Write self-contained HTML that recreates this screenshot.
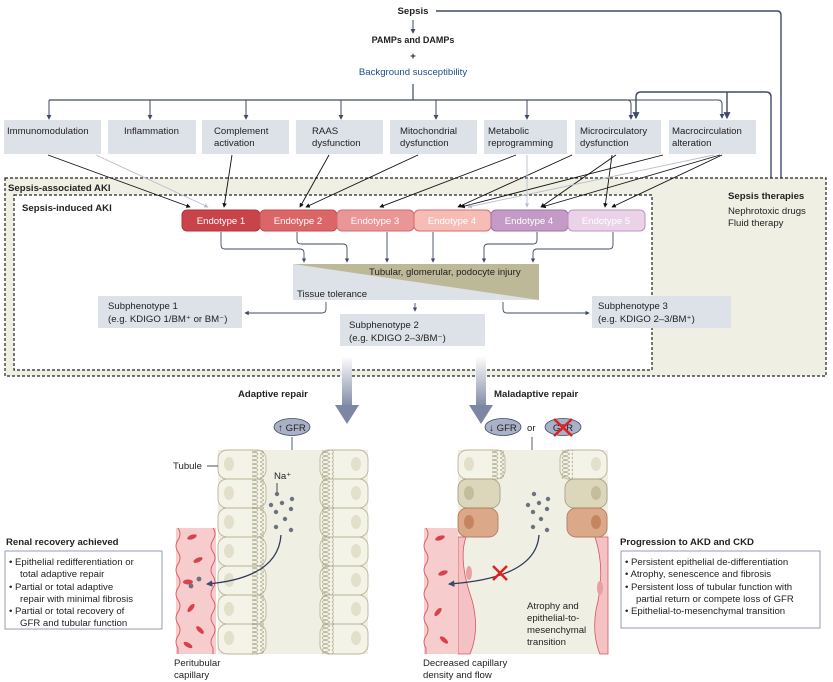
<!DOCTYPE html>
<html><head><meta charset="utf-8"><style>
html,body{margin:0;padding:0;background:#fff}
svg{display:block;font-family:"Liberation Sans",sans-serif}
text{font-size:9.6px;fill:#222}
.b{font-weight:bold}
.w{fill:#fff}
</style></head><body>
<svg width="833" height="682" viewBox="0 0 833 682" xmlns="http://www.w3.org/2000/svg">
<defs>
<marker id="a" viewBox="0 0 6 6" refX="5" refY="3" markerWidth="5" markerHeight="5" orient="auto"><path d="M0,0L6,3L0,6z" fill="#3e4a66"/></marker>
<marker id="k" viewBox="0 0 6 6" refX="5" refY="3" markerWidth="5" markerHeight="5" orient="auto"><path d="M0,0L6,3L0,6z" fill="#111"/></marker>
<marker id="g" viewBox="0 0 6 6" refX="5" refY="3" markerWidth="5" markerHeight="5" orient="auto"><path d="M0,0L6,3L0,6z" fill="#b8bfcc"/></marker>
<pattern id="rf" width="10" height="4" patternUnits="userSpaceOnUse"><path d="M0,2 C3,0 7,0 8,2 C7,4 3,4 0,2" fill="none" stroke="#aaa78a" stroke-width="0.7"/></pattern>
<pattern id="rf2" width="10" height="4" patternUnits="userSpaceOnUse"><path d="M10,2 C7,0 3,0 2,2 C3,4 7,4 10,2" fill="none" stroke="#aaa78a" stroke-width="0.7"/></pattern>
<linearGradient id="ar" x1="0" y1="0" x2="0" y2="1"><stop offset="0" stop-color="#fff"/><stop offset="1" stop-color="#7d87a3"/></linearGradient>
</defs>

<!-- top -->
<text x="413" y="14" class="b" text-anchor="middle">Sepsis</text>
<path d="M436,11H777Q781,11 781,15V184" fill="none" stroke="#3e4a66" stroke-width="1.4" marker-end="url(#a)"/>
<path d="M413,20V33" stroke="#3e4a66" stroke-width="1" marker-end="url(#a)"/>
<text x="413" y="43" class="b" text-anchor="middle" style="font-size:9px">PAMPs and DAMPs</text>
<text x="413" y="59" class="b" text-anchor="middle">+</text>
<text x="413" y="75" text-anchor="middle" fill="#1f4b8c" style="fill:#1f4b8c">Background susceptibility</text>
<path d="M413,84V100M49,100H627" fill="none" stroke="#3e4a66" stroke-width="1.2"/>
<path d="M627,100Q631,100 631,104V118" fill="none" stroke="#3e4a66" stroke-width="1"/>
<path d="M627,100H718Q722,100 722,104V118" fill="none" stroke="#3e4a66" stroke-width="1" marker-end="url(#a)"/>
<g stroke="#3e4a66" stroke-width="1" fill="none" marker-end="url(#a)">
<path d="M49,100V119"/><path d="M150,100V119"/><path d="M246,100V119"/><path d="M341,100V119"/><path d="M436,100V119"/><path d="M527,100V119"/><path d="M631,104V119"/>
</g>
<path d="M771,184V97Q771,92 766,92H641Q636,92 636,97V118" fill="none" stroke="#3e4a66" stroke-width="1.4" marker-end="url(#a)"/>
<path d="M727,92V118" fill="none" stroke="#3e4a66" stroke-width="1.4" marker-end="url(#a)"/>

<g fill="#dde1e8">
<rect x="4" y="120" width="97" height="34"/><rect x="108" y="120" width="88" height="34"/><rect x="202" y="120" width="87" height="34"/><rect x="296" y="120" width="87" height="34"/><rect x="390" y="120" width="87" height="34"/><rect x="484" y="120" width="83" height="34"/><rect x="575" y="120" width="86" height="34"/><rect x="669" y="120" width="87" height="34"/>
</g>
<text x="7" y="134">Immunomodulation</text>
<text x="124" y="134">Inflammation</text>
<text x="214" y="134">Complement</text><text x="214" y="146">activation</text>
<text x="312" y="134">RAAS</text><text x="312" y="146">dysfunction</text>
<text x="400" y="134">Mitochondrial</text><text x="400" y="146">dysfunction</text>
<text x="488" y="134">Metabolic</text><text x="488" y="146">reprogramming</text>
<text x="580" y="134">Microcirculatory</text><text x="580" y="146">dysfunction</text>
<text x="672" y="134">Macrocirculation</text><text x="672" y="146">alteration</text>

<!-- AKI boxes -->
<rect x="5" y="178" width="821" height="198" fill="#efefe4" stroke="#222" stroke-width="1.2" stroke-dasharray="3,2"/>
<rect x="14" y="195" width="638" height="175" fill="#fff" stroke="#222" stroke-width="1.2" stroke-dasharray="3,2"/>
<text x="8" y="191" class="b">Sepsis-associated AKI</text>
<text x="22" y="211" class="b">Sepsis-induced AKI</text>
<text x="728" y="199" class="b">Sepsis therapies</text>
<text x="728" y="214">Nephrotoxic drugs</text>
<text x="728" y="226">Fluid therapy</text>

<!-- connectors box->endotype -->
<g stroke="#111" stroke-width="0.9" marker-end="url(#k)">
<path d="M48,155L190,207"/><path d="M232,155L224,207"/><path d="M329,155L300,207"/><path d="M418,155L306,207"/>
<path d="M516,155L380,207"/><path d="M572,155L458,207"/><path d="M663,155L461,207"/><path d="M616,155L541,207"/>
<path d="M612,155L605,207"/><path d="M720,155L542,207"/><path d="M722,155L612,207"/>
</g>
<g stroke="#b8bfcc" stroke-width="0.9" marker-end="url(#g)">
<path d="M96,155L208,207"/><path d="M527,155L527,207"/><path d="M714,155L468,207"/>
</g>

<!-- endotypes -->
<rect x="182" y="210" width="78" height="21" rx="5" fill="#c9444a" stroke="#b53038"/>
<rect x="260" y="210" width="77" height="21" rx="5" fill="#db6668" stroke="#c94a4f"/>
<rect x="337" y="210" width="77" height="21" rx="5" fill="#ea9596" stroke="#d36a6e"/>
<rect x="414" y="210" width="77" height="21" rx="5" fill="#f6bdb7" stroke="#d86a6e"/>
<rect x="491" y="210" width="77" height="21" rx="5" fill="#c49ac6" stroke="#a070a6"/>
<rect x="568" y="210" width="77" height="21" rx="5" fill="#ead2e8" stroke="#c090c0"/>
<g text-anchor="middle" class="w" style="fill:#fff">
<text x="221" y="224" style="fill:#fff">Endotype 1</text><text x="298" y="224" style="fill:#fff">Endotype 2</text><text x="375" y="224" style="fill:#fff">Endotype 3</text><text x="452" y="224" style="fill:#fff">Endotype 4</text><text x="529" y="224" style="fill:#fff">Endotype 4</text><text x="606" y="224" style="fill:#fff">Endotype 5</text>
</g>
<g stroke="#3e4a66" stroke-width="0.9" fill="none" marker-end="url(#a)">
<path d="M221,232V245Q221,249 225,249H300Q304,249 304,253V262"/>
<path d="M297,232V240Q297,244 301,244H343Q347,244 347,248V262"/>
<path d="M387,232V262"/><path d="M433,232V262"/>
<path d="M537,232V240Q537,244 533,244H488Q484,244 484,248V262"/>
<path d="M613,232V245Q613,249 609,249H537Q533,249 533,253V262"/>
</g>

<rect x="293" y="264" width="246" height="36" fill="#dde1e8"/>
<path d="M293,264H539V300z" fill="#bdb898"/>
<text x="369" y="275">Tubular, glomerular, podocyte injury</text>
<text x="297" y="297">Tissue tolerance</text>

<rect x="98" y="296" width="144" height="32" fill="#dde1e8"/>
<text x="108" y="309">Subphenotype 1</text><text x="108" y="322">(e.g. KDIGO 1/BM⁺ or BM⁻)</text>
<rect x="340" y="314" width="145" height="32" fill="#dde1e8"/>
<text x="349" y="328">Subphenotype 2</text><text x="349" y="341">(e.g. KDIGO 2–3/BM⁻)</text>
<rect x="592" y="296" width="139" height="32" fill="#dde1e8"/>
<text x="598" y="309">Subphenotype 3</text><text x="598" y="322">(e.g. KDIGO 2–3/BM⁺)</text>
<g stroke="#3e4a66" stroke-width="0.9" fill="none" marker-end="url(#a)">
<path d="M326,302V309Q326,313 322,313H245"/><path d="M415,303V311"/><path d="M503,302V309Q503,313 507,313H589"/>
</g>

<!-- big arrows -->
<rect x="342" y="356" width="10" height="52" fill="url(#ar)"/>
<path d="M335,405H359L347,424z" fill="#7d87a3"/>
<rect x="476" y="356" width="10" height="52" fill="url(#ar)"/>
<path d="M469,405H493L481,424z" fill="#7d87a3"/>
<text x="238" y="397" class="b">Adaptive repair</text>
<text x="494" y="397" class="b">Maladaptive repair</text>

<!-- GFR -->
<ellipse cx="292" cy="427" rx="18" ry="8.5" fill="#aab1c6" stroke="#3e4a66" stroke-width="0.8"/>
<text x="292" y="431" text-anchor="middle">↑ GFR</text>
<path d="M292,437V456" stroke="#3e4a66" stroke-width="0.9" marker-end="url(#a)"/>
<ellipse cx="503" cy="427" rx="18" ry="8.5" fill="#aab1c6" stroke="#3e4a66" stroke-width="0.8"/>
<text x="503" y="431" text-anchor="middle">↓ GFR</text>
<text x="527" y="431">or</text>
<ellipse cx="563" cy="427" rx="18" ry="8.5" fill="#aab1c6" stroke="#3e4a66" stroke-width="0.8"/>
<text x="563" y="431" text-anchor="middle">GFR</text>
<path d="M554,419L572,436M572,419L554,436" stroke="#e02020" stroke-width="2.5"/>
<path d="M532,437V456" stroke="#3e4a66" stroke-width="0.9" marker-end="url(#a)"/>

<!-- left tubule -->
<rect x="218" y="450" width="150" height="204" fill="#efefe3"/>
<g fill="#f4f3e8" stroke="#b8b596" stroke-width="0.9">
<rect x="218" y="450" width="48" height="29" rx="9"/><rect x="218" y="479" width="48" height="29" rx="9"/><rect x="218" y="508" width="48" height="29" rx="9"/><rect x="218" y="537" width="48" height="29" rx="9"/><rect x="218" y="566" width="48" height="29" rx="9"/><rect x="218" y="595" width="48" height="29" rx="9"/><rect x="218" y="624" width="48" height="30" rx="9"/>
<rect x="320" y="450" width="48" height="29" rx="9"/><rect x="320" y="479" width="48" height="29" rx="9"/><rect x="320" y="508" width="48" height="29" rx="9"/><rect x="320" y="537" width="48" height="29" rx="9"/><rect x="320" y="566" width="48" height="29" rx="9"/><rect x="320" y="595" width="48" height="29" rx="9"/><rect x="320" y="624" width="48" height="30" rx="9"/>
</g>
<rect x="252" y="450" width="12" height="204" fill="url(#rf)"/>
<rect x="322" y="450" width="12" height="204" fill="url(#rf2)"/>
<g fill="#e2dfca">
<ellipse cx="229" cy="464" rx="5" ry="7"/><ellipse cx="229" cy="493" rx="5" ry="7"/><ellipse cx="229" cy="522" rx="5" ry="7"/><ellipse cx="229" cy="551" rx="5" ry="7"/><ellipse cx="229" cy="580" rx="5" ry="7"/><ellipse cx="229" cy="609" rx="5" ry="7"/><ellipse cx="229" cy="638" rx="5" ry="7"/>
<ellipse cx="356" cy="464" rx="5" ry="7"/><ellipse cx="356" cy="493" rx="5" ry="7"/><ellipse cx="356" cy="522" rx="5" ry="7"/><ellipse cx="356" cy="551" rx="5" ry="7"/><ellipse cx="356" cy="580" rx="5" ry="7"/><ellipse cx="356" cy="609" rx="5" ry="7"/><ellipse cx="356" cy="638" rx="5" ry="7"/>
</g>
<text x="173" y="469">Tubule</text><path d="M207,466H218" stroke="#222" stroke-width="0.8"/>
<text x="274" y="479">Na⁺</text>
<path d="M277,483V493" stroke="#222" stroke-width="0.8"/>
<g fill="#6c7280"><circle cx="277" cy="494" r="2.2"/><circle cx="271" cy="505" r="2.2"/><circle cx="282" cy="503" r="2.2"/><circle cx="292" cy="499" r="2.2"/><circle cx="276" cy="512" r="2.2"/><circle cx="291" cy="509" r="2.2"/><circle cx="285" cy="519" r="2.2"/><circle cx="276" cy="527" r="2.2"/><circle cx="291" cy="530" r="2.2"/></g>
<!-- capillary left -->
<rect x="176" y="528" width="40" height="126" fill="#f7cccc"/>
<path d="M178,528 q4,6 0,12 q-4,6 0,12 q4,6 0,12 q-4,6 0,12 q4,6 0,12 q-4,6 0,12 q4,6 0,12 q-4,6 0,12 q4,6 0,12 q-4,6 0,12 v6" fill="none" stroke="#d65560" stroke-width="0.9"/>
<path d="M213,528 q4,6 0,12 q-4,6 0,12 q4,6 0,12 q-4,6 0,12 q4,6 0,12 q-4,6 0,12 q4,6 0,12 q-4,6 0,12 q4,6 0,12 q-4,6 0,12 v6" fill="none" stroke="#d65560" stroke-width="0.9"/>
<g fill="#d8424c">
<ellipse cx="192" cy="537" rx="5" ry="2.2" transform="rotate(-20 192 537)"/><ellipse cx="198" cy="560" rx="5" ry="2.2" transform="rotate(-25 198 560)"/><ellipse cx="188" cy="582" rx="5" ry="2.5"/><ellipse cx="191" cy="608" rx="5" ry="2.2" transform="rotate(-50 191 608)"/><ellipse cx="200" cy="630" rx="5" ry="2.2" transform="rotate(45 200 630)"/><ellipse cx="188" cy="645" rx="5" ry="2.2" transform="rotate(30 188 645)"/>
</g>
<circle cx="199" cy="579" r="2.4" fill="#6c7280"/><circle cx="191" cy="586" r="2.4" fill="#6c7280"/>
<path d="M281,535 Q278,578 207,584" fill="none" stroke="#2f3a5c" stroke-width="1.3" marker-end="url(#a)"/>
<text x="174" y="666">Peritubular</text><text x="174" y="678">capillary</text>

<!-- right tubule -->
<rect x="458" y="450" width="150" height="204" fill="#efefe3"/>
<path d="M466,537 Q458,560 472,600 Q480,630 470,654 H458 V537z" fill="#f4c2c4" stroke="#d65560" stroke-width="0.8"/>
<path d="M595,537 Q606,570 596,610 Q592,635 600,654 H608 V537z" fill="#f4c2c4" stroke="#d65560" stroke-width="0.8"/>
<ellipse cx="469" cy="573" rx="3" ry="7" fill="#e8a0a4"/><ellipse cx="600" cy="588" rx="3" ry="7" fill="#e8a0a4"/>
<rect x="458" y="450" width="47" height="29" rx="9" fill="#f4f3e8" stroke="#b8b596" stroke-width="0.9"/>
<rect x="560" y="450" width="47" height="29" rx="9" fill="#f4f3e8" stroke="#b8b596" stroke-width="0.9"/>
<rect x="458" y="479" width="42" height="29" rx="9" fill="#dcd6bb" stroke="#a8a285" stroke-width="0.9"/>
<rect x="565" y="479" width="42" height="29" rx="9" fill="#dcd6bb" stroke="#a8a285" stroke-width="0.9"/>
<rect x="458" y="508" width="40" height="29" rx="9" fill="#dba88a" stroke="#b47e60" stroke-width="0.9"/>
<rect x="567" y="508" width="40" height="29" rx="9" fill="#dba88a" stroke="#b47e60" stroke-width="0.9"/>
<rect x="492" y="450" width="12" height="29" fill="url(#rf)"/><rect x="561" y="450" width="12" height="29" fill="url(#rf2)"/>
<ellipse cx="469" cy="464" rx="5" ry="7" fill="#e2dfca"/><ellipse cx="596" cy="464" rx="5" ry="7" fill="#e2dfca"/>
<ellipse cx="469" cy="493" rx="5" ry="7" fill="#c4bd9c"/><ellipse cx="596" cy="493" rx="5" ry="7" fill="#c4bd9c"/>
<ellipse cx="469" cy="522" rx="5" ry="7" fill="#c68560"/><ellipse cx="596" cy="522" rx="5" ry="7" fill="#c68560"/>
<g fill="#6c7280"><circle cx="534" cy="494" r="2.2"/><circle cx="528" cy="505" r="2.2"/><circle cx="539" cy="503" r="2.2"/><circle cx="548" cy="499" r="2.2"/><circle cx="533" cy="512" r="2.2"/><circle cx="547" cy="509" r="2.2"/><circle cx="541" cy="519" r="2.2"/><circle cx="533" cy="527" r="2.2"/><circle cx="547" cy="530" r="2.2"/></g>
<rect x="424" y="528" width="34" height="126" fill="#f7cccc"/>
<path d="M426,528 q4,6 0,12 q-4,6 0,12 q4,6 0,12 q-4,6 0,12 q4,6 0,12 q-4,6 0,12 q4,6 0,12 q-4,6 0,12 q4,6 0,12 q-4,6 0,12 v6" fill="none" stroke="#d65560" stroke-width="0.9"/>
<g fill="#d8424c"><ellipse cx="440" cy="538" rx="5" ry="2.2" transform="rotate(-20 440 538)"/><ellipse cx="443" cy="573" rx="5" ry="2.2" transform="rotate(-20 443 573)"/><ellipse cx="438" cy="612" rx="5" ry="2.2" transform="rotate(-50 438 612)"/><ellipse cx="444" cy="640" rx="5" ry="2.2" transform="rotate(40 444 640)"/></g>
<path d="M539,535 Q536,578 449,584" fill="none" stroke="#2f3a5c" stroke-width="1.3" marker-end="url(#a)"/>
<path d="M493,566L507,580M507,566L493,580" stroke="#e02020" stroke-width="2.5"/>
<text x="527" y="609">Atrophy and</text><text x="527" y="621">epithelial-to-</text><text x="527" y="633">mesenchymal</text><text x="527" y="645">transition</text>
<text x="423" y="666">Decreased capillary</text><text x="423" y="678">density and flow</text>

<!-- side boxes -->
<text x="6" y="545" class="b">Renal recovery achieved</text>
<rect x="5" y="551" width="157" height="78" fill="#fff" stroke="#8a93ad" stroke-width="0.9"/>
<text x="9" y="565">• Epithelial redifferentiation or</text><text x="20" y="577">total adaptive repair</text>
<text x="9" y="590">• Partial or total adaptive</text><text x="20" y="602">repair with minimal fibrosis</text>
<text x="9" y="614">• Partial or total recovery of</text><text x="20" y="626">GFR and tubular function</text>
<text x="620" y="545" class="b">Progression to AKD and CKD</text>
<rect x="621" y="551" width="199" height="77" fill="#fff" stroke="#8a93ad" stroke-width="0.9"/>
<text x="625" y="565">• Persistent epithelial de-differentiation</text>
<text x="625" y="577">• Atrophy, senescence and fibrosis</text>
<text x="625" y="590">• Persistent loss of tubular function with</text><text x="636" y="602">partial return or compete loss of GFR</text>
<text x="625" y="614">• Epithelial-to-mesenchymal transition</text>
</svg>
</body></html>
